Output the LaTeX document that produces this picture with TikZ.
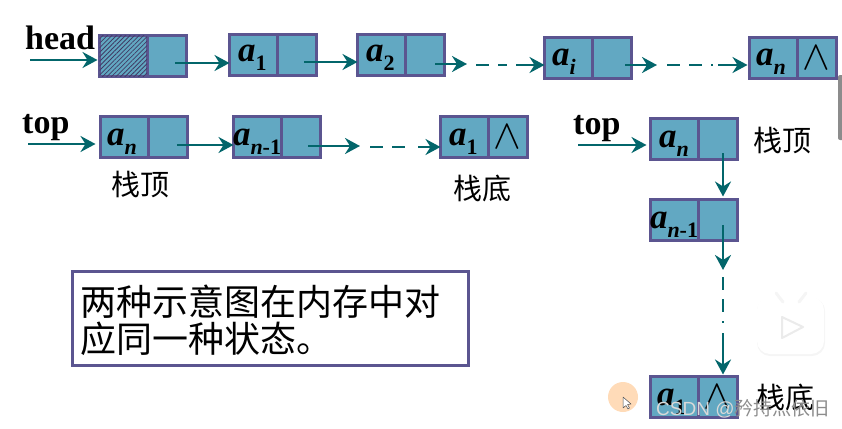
\documentclass[tikz,border=0pt]{standalone}
\usepackage{fontspec}
\setmainfont{Liberation Serif}
\newfontfamily\cjk{Noto Sans CJK SC}
\newfontfamily\wmfont{Liberation Sans}
\usetikzlibrary{arrows.meta,patterns.meta,calc}
\definecolor{cellfill}{HTML}{62A8C2}
\definecolor{cellline}{HTML}{5B5590}
\definecolor{arrowteal}{HTML}{03666B}
\newcommand{\elemtext}[2]{{\fontsize{35}{35}\selectfont\bfseries\itshape a}\raisebox{-9pt}{\fontsize{22}{22}\selectfont\bfseries #2}}
\newcommand{\nodecell}[3]{%
  \node[leftcell] (#1L) at (#2+1.5,#3+1.5) {};
  \node[rightcell] (#1R) at (#1L.north east) {};
}
\tikzset{
  x=1pt,y=-1pt,
  leftcell/.style={draw=cellline,fill=cellfill,line width=3pt,anchor=north west,minimum width=47.5pt,minimum height=41pt,inner sep=0pt,outer sep=0pt},
  rightcell/.style={leftcell,minimum width=39.5pt},
  hatched/.style={pattern={Lines[angle=45,distance=3.2pt,line width=0.8pt]},pattern color=cellline!70!black},
  elem/.style={anchor=base west,inner sep=0pt,outer sep=0pt},
  ptr/.style={font=\fontsize{34}{34}\selectfont\bfseries,anchor=base west,inner sep=0pt},
  hanzi/.style={font=\cjk\fontsize{29}{29}\selectfont,inner sep=0pt},
  link/.style={draw=arrowteal,line width=2.8pt,-{Stealth[length=15pt,width=16pt,inset=5pt]}},
  linkplain/.style={draw=arrowteal,line width=2.8pt},
  nullmark/.style={font=\huge,scale=2,inner sep=0pt},
  note/.style={draw=cellline,line width=2.5pt,fill=white,anchor=north west,minimum width=396pt,minimum height=94pt,inner sep=0pt},
  notetext/.style={font=\cjk\fontsize{36}{37}\selectfont,anchor=west,inner sep=0pt},
}
\begin{document}
\begin{tikzpicture}
\useasboundingbox (0,0) rectangle (842,428);
% scrollbar and play icon of the screen capture
\fill[black!45,rounded corners=2pt] (838,75) rectangle (845,140);
\fill[black!4,rounded corners=13pt] (757,298) rectangle (825,356);
\fill[white,rounded corners=13pt] (757,297) rectangle (824,354);
\draw[black!4,line width=3pt,line cap=round] (776,293) -- (783,302) (806,293) -- (799,302);
\draw[black!8,fill=white,line width=2pt,line join=round] (782,317) -- (803,327) -- (782,338) -- cycle;
% top list
\nodecell{h}{98}{34}
\path[hatched] (hL.north west) rectangle (hL.south east);
\nodecell{b}{228}{33}
\nodecell{c}{356}{33}
\nodecell{d}{543}{36}
\nodecell{e}{748}{36}
% stack, horizontal
\nodecell{p}{99}{115}
\nodecell{q}{232}{115}
\nodecell{r}{439}{115}
% stack, vertical
\nodecell{u}{649}{117}
\nodecell{v}{649}{198}
\nodecell{w}{649}{375}
% element labels
\node[elem] (tb) at (238,62) {\elemtext{a}{1}};
\node[elem] (tc) at (366,62) {\elemtext{a}{2}};
\node[elem] (td) at (552,66) {\elemtext{a}{\itshape i}};
\node[elem] (te) at (756,66) {\elemtext{a}{\itshape n}};
\node[elem] (tp) at (107,145) {\elemtext{a}{\itshape n}};
\node[elem] (tq) at (233,145) {\elemtext{a}{{\itshape n}-1}};
\node[elem] (tr) at (449,145) {\elemtext{a}{1}};
\node[elem] (tu) at (659,147) {\elemtext{a}{\itshape n}};
\node[elem] (tv) at (650,228) {\elemtext{a}{{\itshape n}-1}};
\node[elem] (tw) at (657,405) {\elemtext{a}{1}};
\node[nullmark] (ne) at (eR.center) {$\wedge$};
\node[nullmark] (nr) at (rR.center) {$\wedge$};
\node[nullmark] (nw) at (wR.center) {$\wedge$};
% pointers
\node[ptr] (head) at (25,49) {head};
\node[ptr] (top1) at (22,133) {top};
\node[ptr] (top2) at (573,134) {top};
% chinese labels
\node[hanzi] (l1) at (140,185) {栈顶};
\node[hanzi] (l2) at (482,188) {栈底};
\node[hanzi] (l3) at (782,141) {栈顶};
\node[hanzi] (l4) at (785,397) {栈底};
% connector free ends
\coordinate (s0) at (30,60);
\coordinate (s1) at (175,63);
\coordinate (s2) at (304,62);
\coordinate (s3) at (435,64);
\coordinate (s3a) at (467,64);
\coordinate (s3b) at (476,65);
\coordinate (s3c) at (516,65);
\coordinate (s4) at (625,65);
\coordinate (s4a) at (657,65);
\coordinate (s4b) at (667,65);
\coordinate (s4c) at (718,65);
\coordinate (s5) at (28,144);
\coordinate (s6) at (177,145);
\coordinate (s7) at (308,146);
\coordinate (s7a) at (360,146);
\coordinate (s7b) at (370,147);
\coordinate (s7c) at (418,147);
\coordinate (s8) at (578,145);
\coordinate (s9) at (723,153);
\coordinate (s10) at (723,225);
\coordinate (s10a) at (723,270);
\coordinate (s10b) at (723,277);
\coordinate (s10c) at (723,333);
% connectors
\draw[link] (s0) -- ($(s0 -| hL.west)+(-2,0)$);
\draw[link] (s1) -- (s1 -| bL.west);
\draw[link] (s2) -- (s2 -| cL.west);
\draw[link] (s3) -- (s3a);
\draw[linkplain,dash pattern=on 13pt off 9pt] (s3b) -- ($(s3c)+(-9,0)$);
\draw[link] (s3c) -- (s3c -| dL.west);
\draw[link] (s4) -- (s4a);
\draw[linkplain,dash pattern=on 13pt off 9pt on 13pt off 9pt on 2pt off 9pt] (s4b) -- ($(s4c)+(-5,0)$);
\draw[link] (s4c) -- ($(s4c -| eL.west)+(-2,0)$);
\draw[link] (s5) -- ($(s5 -| pL.west)+(-5,0)$);
\draw[link] (s6) -- (s6 -| qL.west);
\draw[link] (s7) -- (s7a);
\draw[linkplain,dash pattern=on 13pt off 9pt] (s7b) -- ($(s7c)+(-4,0)$);
\draw[link] (s7c) -- (s7c -| rL.west);
\draw[link] (s8) -- ($(s8 -| uL.west)+(-4,0)$);
\draw[link] (s9) -- ($(s9 |- vR.north)+(0,-3)$);
\draw[link] (s10) -- (s10a);
\draw[linkplain,dash pattern=on 13pt off 9pt on 13pt off 9pt on 2pt off 9pt] (s10b) -- ($(s10c)+(0,-3)$);
\draw[link] (s10c) -- ($(s10c |- wR.north)+(0,-2)$);
% note
\node[note] (box) at (71,270) {};
\node[notetext] (n1) at (80,302) {两种示意图在内存中对};
\node[notetext] (n2) at (80,339) {应同一种状态。};
% recording marks
\fill[orange!35!white,opacity=.8] (623,397) circle (15);
\draw[black!70,fill=white,line width=.5pt,line join=round] (623,397) -- (623,408) -- (626,405.5) -- (628,409) -- (629.5,408) -- (627.5,404.5) -- (631,404) -- cycle;
\node[anchor=base west,inner sep=0pt,font=\wmfont\fontsize{19}{19}\selectfont] (wm) at (656,415) {\textcolor{black!15}{CSDN @}\textcolor{black!45}{\cjk 矜持灬依旧}};
\end{tikzpicture}
\end{document}
